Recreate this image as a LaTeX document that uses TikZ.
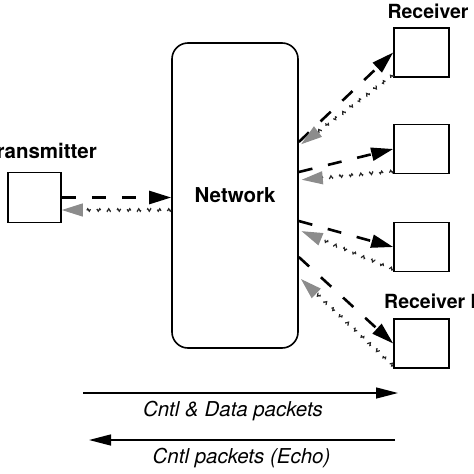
\documentclass[tikz,border=0pt]{standalone}
\usepackage{fontspec}
\setmainfont{TeX Gyre Heros}
\usetikzlibrary{arrows.meta,decorations.pathmorphing,calc}

\begin{document}
\begin{tikzpicture}[x=1pt,y=-1pt,
    box/.style={draw,line width=1.6pt,minimum width=55pt,minimum height=49pt,inner sep=0pt},
    netbox/.style={draw,line width=1.6pt,rounded corners=16pt,minimum width=126pt,minimum height=305pt,inner sep=0pt},
    lbl/.style={font=\fontsize{20.5}{24}\selectfont\bfseries,inner sep=0pt},
    rlbl/.style={font=\fontsize{19.5}{23}\selectfont\bfseries,inner sep=0pt},
    caption/.style={font=\fontsize{20.5}{24}\selectfont\itshape,inner sep=0pt},
    data/.style={line width=2.6pt,dash pattern=on 14pt off 16pt,-{Triangle[length=22pt,width=13pt]}},
    echo/.style={black!85,line width=1.2pt,dash pattern=on 7pt off 12pt,
      decorate,decoration={snake,segment length=3pt,amplitude=1.2pt,post length=22pt},
      -{Triangle[length=21pt,width=13pt,color=black!45]},shorten >=3pt},
    flow/.style={line width=1.4pt,-{Triangle[length=22pt,width=11pt]}}]
  \useasboundingbox (0,0) rectangle (474,474);
  \clip (0,0) rectangle (474,474);

  \node[netbox,lbl] (net) at (235,195.5) {Network};
  \node[box,minimum width=53pt,minimum height=50pt] (tx) at (34.5,197.5) {};
  \node[lbl,anchor=base east] (txlbl) at (97,158) {Transmitter};

  \node[box] (r1) at (421.5,52.5) {};
  \node[box] (r2) at (421.5,149) {};
  \node[box] (r3) at (421.5,247) {};
  \node[box] (r4) at (421.5,343.5) {};
  \node[rlbl,anchor=base] (r1lbl) at (428,18) {Receiver};
  \node[rlbl,anchor=base west] (r4lbl) at (384,308) {Receiver N};

  % transmitter <-> network
  \coordinate (txlow) at ([yshift=-12.5pt]tx.east);
  \draw[data] (tx.east) -- (tx.east -| net.west);
  \draw[echo,shorten >=0pt] (txlow -| net.west) -- (txlow);

  % network <-> receivers
  \foreach \r/\yo/\yi in {r1/53.5/49.5,r2/23.5/15.5,r3/-25.5/-34.5,r4/-61.5/-81.5}{
    \draw[data] ([yshift=\yo pt]net.east) -- (\r.west);
    \draw[echo] ([yshift=3pt]\r.south west) -- ([yshift=\yi pt]net.east);
  }

  % legend
  \coordinate (d1) at (83,393);
  \coordinate (d2) at (398,393);
  \coordinate (e1) at (395,440);
  \coordinate (e2) at (89,440);
  \draw[flow] (d1) -- (d2);
  \draw[flow] (e1) -- (e2);
  \node[caption,anchor=base] (dlbl) at (233,416) {Cntl \& Data packets};
  \node[caption,anchor=base] (elbl) at (241.5,463) {Cntl packets (Echo)};
\end{tikzpicture}
\end{document}
